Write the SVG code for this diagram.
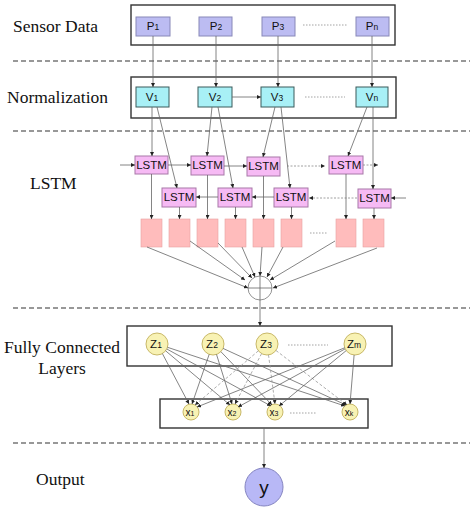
<svg xmlns="http://www.w3.org/2000/svg" width="474" height="510" viewBox="0 0 474 510">
<style>
.lbl{font-family:"Liberation Serif","Times New Roman",serif;font-size:17.5px;fill:#111}
.t{font-family:"Liberation Sans",Arial,sans-serif;font-size:11.5px;fill:#111;text-anchor:middle}
.sub{font-size:8.5px}
.frame{fill:#fff;stroke:#333;stroke-width:1.4}
.p{fill:#bcbcf2;stroke:#8888b8;stroke-width:1}
.v{fill:#a8f0f6;stroke:#3a5a5a;stroke-width:1}
.l{fill:#f6baf4;stroke:#a878a8;stroke-width:1}
.r{fill:#ffbcbc;stroke:#e8a0a0;stroke-width:0.6}
.z{fill:#f8f2b4;stroke:#c8b868;stroke-width:1}
.sep{stroke:#333;stroke-width:1.2;stroke-dasharray:5,3;fill:none}
.c{stroke:#666;stroke-width:0.8;fill:none}
.a{stroke:#666;stroke-width:0.8;fill:none;marker-end:url(#ah)}
.ad{stroke:#888;stroke-width:0.8;fill:none;stroke-dasharray:2,1.5;marker-end:url(#ah)}
.dz{stroke:#999;stroke-width:0.8;fill:none;stroke-dasharray:3,2;marker-end:url(#ah)}
.dots{stroke:#999;stroke-width:0.9;stroke-dasharray:1.5,1.5;fill:none}
</style>
<defs>
<marker id="ah" markerWidth="4" markerHeight="4" refX="4" refY="2" orient="auto" markerUnits="userSpaceOnUse">
<path d="M0,0 L4,2 L0,4 z" fill="#222"/>
</marker>
</defs>

<g id="labels">
<text class="lbl" x="13" y="32">Sensor Data</text>
<text class="lbl" x="7" y="103">Normalization</text>
<text class="lbl" x="30" y="189">LSTM</text>
<text class="lbl" x="62" y="353" text-anchor="middle">Fully Connected</text>
<text class="lbl" x="62" y="374" text-anchor="middle">Layers</text>
<text class="lbl" x="36" y="485">Output</text>
</g>

<g id="separators">
<line class="sep" x1="13" y1="61" x2="470" y2="61"/>
<line class="sep" x1="13" y1="131" x2="470" y2="131"/>
<line class="sep" x1="13" y1="308" x2="470" y2="308"/>
<line class="sep" x1="13" y1="443" x2="470" y2="443"/>
</g>

<g id="sensor">
<rect class="frame" x="131" y="5" width="264" height="40"/>
<rect class="p" x="136" y="17" width="34" height="19"/>
<text class="t" x="153" y="30">P<tspan class="sub">1</tspan></text>
<rect class="p" x="199" y="17" width="33" height="19"/>
<text class="t" x="216" y="30">P<tspan class="sub">2</tspan></text>
<rect class="p" x="262" y="17" width="33" height="19"/>
<text class="t" x="278" y="30">P<tspan class="sub">3</tspan></text>
<rect class="p" x="356" y="17" width="33" height="19"/>
<text class="t" x="372" y="30">P<tspan class="sub">n</tspan></text>
<line class="dots" x1="303" y1="25" x2="347" y2="25"/>
</g>

<g id="normalization">
<rect class="frame" x="131" y="77" width="265" height="41"/>
<rect class="v" x="136" y="87" width="33" height="20"/>
<text class="t" x="152" y="101">V<tspan class="sub">1</tspan></text>
<rect class="v" x="198" y="87" width="34" height="20"/>
<text class="t" x="215" y="101">V<tspan class="sub">2</tspan></text>
<rect class="v" x="261" y="87" width="33" height="20"/>
<text class="t" x="277" y="101">V<tspan class="sub">3</tspan></text>
<rect class="v" x="356" y="87" width="32" height="20"/>
<text class="t" x="372" y="101">V<tspan class="sub">n</tspan></text>
<line class="dots" x1="305" y1="97" x2="345" y2="97"/>
</g>

<g id="lstm">
<rect class="l" x="135" y="156" width="33" height="18"/>
<text class="t" x="151.5" y="169">LSTM</text>
<rect class="l" x="191" y="156" width="33" height="19"/>
<text class="t" x="207.5" y="169">LSTM</text>
<rect class="l" x="247" y="157" width="33" height="19"/>
<text class="t" x="263.5" y="170">LSTM</text>
<rect class="l" x="329" y="156" width="34" height="18"/>
<text class="t" x="346" y="169">LSTM</text>
<rect class="l" x="162" y="188" width="34" height="19"/>
<text class="t" x="179" y="201">LSTM</text>
<rect class="l" x="218" y="188" width="34" height="19"/>
<text class="t" x="235" y="201">LSTM</text>
<rect class="l" x="274" y="188" width="34" height="19"/>
<text class="t" x="291" y="201">LSTM</text>
<rect class="l" x="358" y="189" width="33" height="19"/>
<text class="t" x="374.5" y="202">LSTM</text>
</g>

<g id="outputs">
<rect class="r" x="141" y="219" width="21" height="28"/>
<rect class="r" x="169" y="219" width="21" height="28"/>
<rect class="r" x="197" y="219" width="21" height="28"/>
<rect class="r" x="225" y="219" width="21" height="28"/>
<rect class="r" x="253" y="219" width="21" height="28"/>
<rect class="r" x="281" y="219" width="21" height="28"/>
<rect class="r" x="336" y="219" width="20" height="28"/>
<rect class="r" x="363" y="219" width="21" height="28"/>
<line class="dots" x1="310" y1="233" x2="328" y2="233"/>
</g>

<g id="merge">
<circle cx="260" cy="288" r="12" fill="#fff" stroke="#777" stroke-width="0.8"/>
<line class="c" x1="248" y1="288" x2="272" y2="288"/>
</g>

<g id="fc">
<rect class="frame" x="127" y="326" width="265" height="40"/>
<circle class="z" cx="157" cy="344" r="11"/>
<text class="t" x="156" y="348">Z<tspan class="sub">1</tspan></text>
<circle class="z" cx="213" cy="344" r="11"/>
<text class="t" x="212" y="348">Z<tspan class="sub">2</tspan></text>
<circle class="z" cx="267" cy="344" r="11"/>
<text class="t" x="266" y="348">Z<tspan class="sub">3</tspan></text>
<circle class="z" cx="355" cy="344" r="11"/>
<text class="t" x="354" y="348">Z<tspan class="sub">m</tspan></text>
<line class="dots" x1="288" y1="345" x2="328" y2="345"/>
<rect class="frame" x="160" y="399" width="208" height="29"/>
<circle class="z" cx="191" cy="412" r="8"/>
<text class="t" x="190" y="416" style="font-size:10px">x<tspan class="sub" style="font-size:7px">1</tspan></text>
<circle class="z" cx="233" cy="412" r="8"/>
<text class="t" x="232" y="416" style="font-size:10px">x<tspan class="sub" style="font-size:7px">2</tspan></text>
<circle class="z" cx="275" cy="412" r="8"/>
<text class="t" x="274" y="416" style="font-size:10px">x<tspan class="sub" style="font-size:7px">3</tspan></text>
<circle class="z" cx="350" cy="412" r="8"/>
<text class="t" x="349" y="416" style="font-size:10px">x<tspan class="sub" style="font-size:7px">k</tspan></text>
<line class="dots" x1="290" y1="413" x2="317" y2="413"/>
</g>

<g id="output">
<circle cx="264" cy="487" r="19" fill="#b8b8f6" stroke="#8484c0" stroke-width="1"/>
<text x="264" y="494" text-anchor="middle" style="font-family:'Liberation Sans',Arial,sans-serif;font-size:19px;fill:#111">y</text>
</g>

<g id="connectors">
<line class="a" x1="153" y1="36" x2="153" y2="87"/>
<line class="a" x1="216" y1="36" x2="216" y2="87"/>
<line class="a" x1="278" y1="36" x2="278" y2="87"/>
<line class="a" x1="372" y1="36" x2="372" y2="87"/>
<line class="a" x1="232" y1="97" x2="261" y2="97"/>
<line class="a" x1="152" y1="107" x2="152" y2="156"/>
<line class="a" x1="157" y1="107" x2="177" y2="188"/>
<line class="a" x1="212" y1="107" x2="207" y2="156"/>
<line class="a" x1="218" y1="107" x2="233" y2="188"/>
<line class="a" x1="275" y1="107" x2="263" y2="157"/>
<line class="a" x1="281" y1="107" x2="290" y2="188"/>
<line class="a" x1="367" y1="107" x2="348" y2="156"/>
<line class="a" x1="373" y1="107" x2="373" y2="189"/>
<line class="a" x1="120" y1="165" x2="135" y2="165"/>
<line class="a" x1="168" y1="165" x2="191" y2="165"/>
<line class="a" x1="224" y1="166" x2="247" y2="166"/>
<line class="ad" x1="287" y1="166" x2="325" y2="166"/>
<line class="ad" x1="363" y1="165" x2="378" y2="165"/>
<line class="a" x1="406" y1="198" x2="391" y2="198"/>
<line class="ad" x1="357" y1="198" x2="309" y2="198"/>
<line class="a" x1="274" y1="197" x2="252" y2="197"/>
<line class="a" x1="218" y1="197" x2="196" y2="197"/>
<line class="a" x1="151.5" y1="174" x2="151.5" y2="219"/>
<line class="a" x1="179.5" y1="207" x2="179.5" y2="219"/>
<line class="a" x1="207.5" y1="175" x2="207.5" y2="219"/>
<line class="a" x1="235.5" y1="207" x2="235.5" y2="219"/>
<line class="a" x1="263.5" y1="176" x2="263.5" y2="219"/>
<line class="a" x1="291.5" y1="207" x2="291.5" y2="219"/>
<line class="a" x1="346" y1="174" x2="346" y2="219"/>
<line class="a" x1="374" y1="208" x2="374" y2="219"/>
<line class="a" x1="147" y1="247" x2="248" y2="288"/>
<line class="a" x1="190" y1="241" x2="245" y2="280"/>
<line class="a" x1="218" y1="243" x2="252" y2="278"/>
<line class="a" x1="242" y1="247" x2="255" y2="277"/>
<line class="a" x1="262" y1="247" x2="260" y2="276"/>
<line class="a" x1="283" y1="247" x2="267" y2="277"/>
<line class="a" x1="335" y1="241" x2="270" y2="280"/>
<line class="a" x1="377" y1="248" x2="273" y2="288"/>
<line class="a" x1="260" y1="276" x2="260" y2="326"/>
<line class="a" x1="162.4" y1="353.6" x2="189" y2="404"/>
<line class="a" x1="165.6" y1="350.8" x2="230" y2="405"/>
<line class="a" x1="166.8" y1="349" x2="271" y2="406"/>
<line class="a" x1="167.5" y1="347.3" x2="345" y2="406"/>
<line class="a" x1="209.2" y1="354.3" x2="192" y2="404"/>
<line class="a" x1="216.5" y1="354.4" x2="232" y2="404"/>
<line class="a" x1="220.9" y1="351.7" x2="272" y2="405"/>
<line class="a" x1="223" y1="348.4" x2="346" y2="405"/>
<line class="dz" x1="258.4" y1="350.8" x2="195" y2="405"/>
<line class="dz" x1="261.6" y1="353.6" x2="235" y2="404"/>
<line class="dz" x1="268.5" y1="354.9" x2="275" y2="404"/>
<line class="dz" x1="276" y1="350.5" x2="347" y2="405"/>
<line class="a" x1="344.7" y1="347.8" x2="197" y2="407"/>
<line class="a" x1="345.1" y1="348.9" x2="238" y2="407"/>
<line class="a" x1="346.2" y1="350.6" x2="279" y2="406"/>
<line class="a" x1="354.1" y1="355" x2="350" y2="404"/>
<line class="a" x1="264" y1="428" x2="264" y2="468"/>
</g>
</svg>
